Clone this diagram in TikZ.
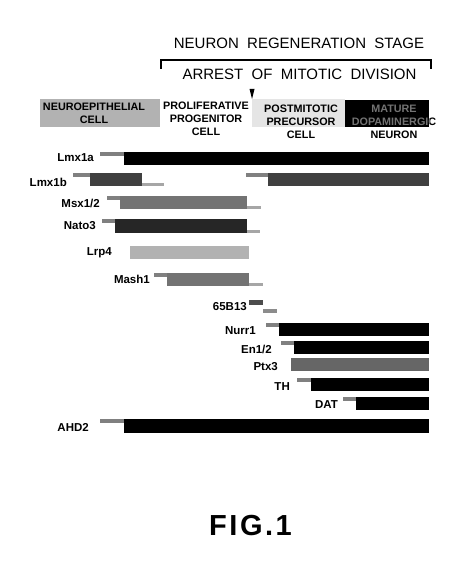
\documentclass[tikz,border=0pt]{standalone}
\usepackage{fontspec}
\setmainfont{Liberation Sans}
\tikzset{
  gene/.style={anchor=east, font=\bfseries\fontsize{11.5}{12}\selectfont, inner sep=1pt},
  stagetext/.style={align=center, font=\bfseries\fontsize{10.8}{13}\selectfont, inner sep=0pt},
  heading/.style={font=\fontsize{15}{15}\selectfont, inner sep=0pt},
  lead/.style={fill=black!50},
  tail/.style={fill=black!35},
}

\begin{document}
\begin{tikzpicture}[x=1pt, y=-1pt]
\useasboundingbox (0,0) rectangle (474,567);
% headings
\node[heading] (regen) at (299,43) {NEURON\ \ REGENERATION\ \ STAGE};
\draw[line width=1.5pt] (161,69) -- (161,60) -- (431,60) -- (431,69);
\node[heading] (arrest) at (299.5,74) {ARREST\ \ OF\ \ MITOTIC\ \ DIVISION};
\fill (249.5,89) -- (254.5,89) -- (252,99) -- cycle; % arrest mark
% stages
\fill[black!30] (40,99) rectangle (160,127);
\node[stagetext] (neuro) at (94,113.5) {NEUROEPITHELIAL\\CELL};
\node[stagetext] (prolif) at (206,118.5) {PROLIFERATIVE\\PROGENITOR\\CELL};
\fill[black!10] (252,99) rectangle (345,127);
\node[stagetext] (postmit) at (301,121.5) {POSTMITOTIC\\PRECURSOR\\CELL};
\fill (345,100) rectangle (429,127);
\node[stagetext] (mature) at (394,121.5) {MATURE\\DOPAMINERGIC\\NEURON};
\begin{scope}
  \clip (345,100) rectangle (429,127);
  \node[stagetext, text=black!55] (matureIn) at (394,121.5) {MATURE\\DOPAMINERGIC\\NEURON};
\end{scope}
% genes
\node[gene] (lmx1a) at (95,158) {Lmx1a};
\fill[lead] (100,152) rectangle (124,156);
\fill (124,152) rectangle (429,165);

\node[gene] (lmx1b) at (68,182) {Lmx1b};
\fill[lead] (73,173) rectangle (90,177);
\fill[black!75] (90,173) rectangle (142,186);
\fill[tail] (142,183) rectangle (164,186);
\fill[lead] (246,173) rectangle (268,177);
\fill[black!75] (268,173) rectangle (429,186);

\node[gene] (msx) at (101,203) {Msx1/2};
\fill[lead] (107,196) rectangle (120,200);
\fill[black!55] (120,196) rectangle (247,209);
\fill[tail] (247,206) rectangle (261,209);

\node[gene] (nato3) at (97,226) {Nato3};
\fill[lead] (102,219) rectangle (115,223);
\fill[black!85] (115,219) rectangle (247,233);
\fill[tail] (247,230) rectangle (260,233);

\node[gene] (lrp4) at (113,253) {Lrp4};
\fill[black!30] (130,246) rectangle (249,259);

\node[gene] (mash1) at (151,279) {Mash1};
\fill[lead] (154,273) rectangle (167,277);
\fill[black!55] (167,273) rectangle (249,286);
\fill[tail] (249,283) rectangle (263,286);

\node[gene] (b13) at (248,307) {65B13};
\fill[black!70] (249,300) rectangle (263,305);
\fill[black!45] (263,309) rectangle (277,313);

\node[gene] (nurr1) at (257,331) {Nurr1};
\fill[lead] (266,323) rectangle (279,327);
\fill (279,323) rectangle (429,336);

\node[gene] (en) at (273,349) {En1/2};
\fill[lead] (281,341) rectangle (294,345);
\fill (294,341) rectangle (429,354);

\node[gene] (ptx3) at (279,367) {Ptx3};
\fill[black!60] (291,358) rectangle (429,371);

\node[gene] (th) at (291,387) {TH};
\fill[lead] (297,378) rectangle (311,382);
\fill (311,378) rectangle (429,391);

\node[gene] (dat) at (339,405) {DAT};
\fill[lead] (343,397) rectangle (356,401);
\fill (356,397) rectangle (429,410);

\node[gene] (ahd2) at (90,427) {AHD2};
\fill[lead] (100,419) rectangle (124,423);
\fill (124,419) rectangle (429,433);
% caption
\node[font=\bfseries\fontsize{29}{29}\selectfont, inner sep=0pt] (fig) at (250.5,525.5) {F\hspace{2.5pt}I\hspace{2.5pt}G\hspace{2.5pt}.\hspace{2.5pt}1};
\end{tikzpicture}
\end{document}
